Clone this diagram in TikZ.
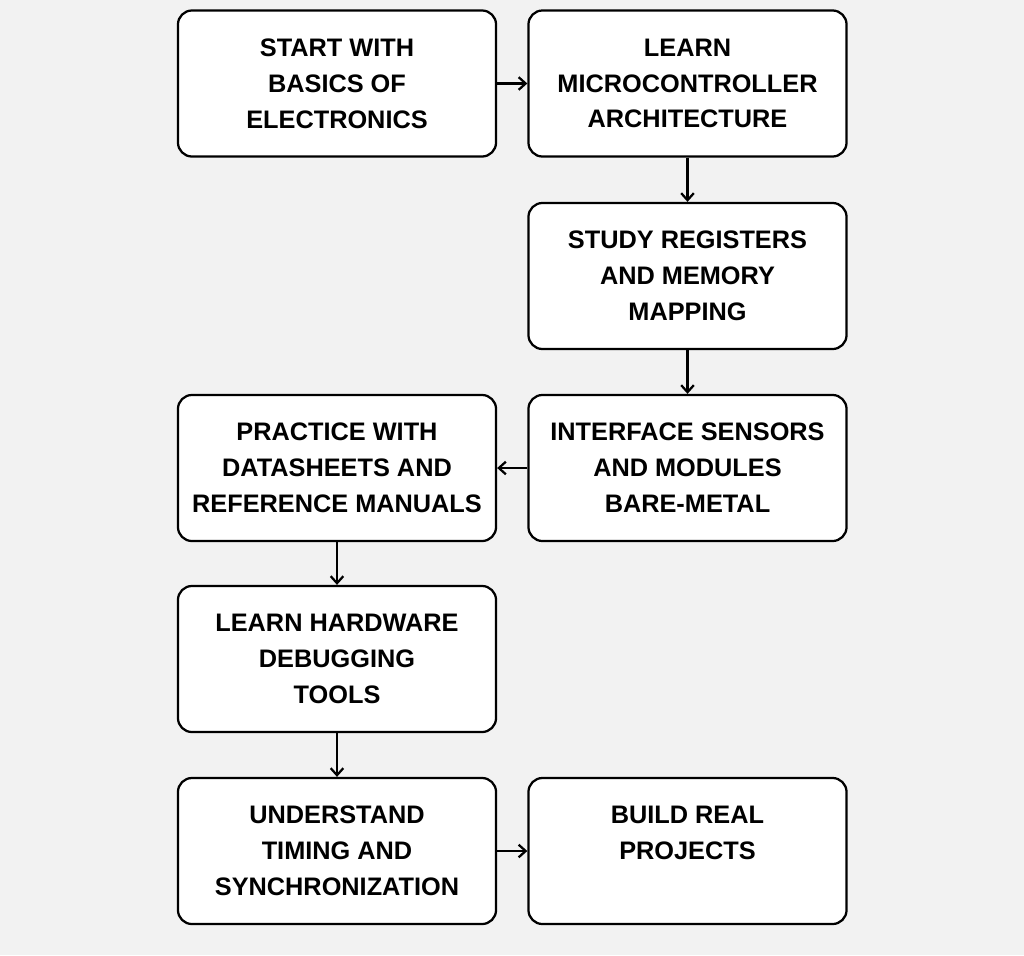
\documentclass[tikz,border=0pt]{standalone}
\usepackage{fontspec}
\setmainfont{Liberation Sans}
\usetikzlibrary{arrows.meta}
\begin{document}
\begin{tikzpicture}[
    x=0.025cm, y=-0.025cm,
    stepbox/.style={rectangle, draw, rounded corners=0.35cm, line width=1.6pt,
      fill=white, minimum width=7.95cm, minimum height=3.65cm, align=center,
      font=\fontsize{18}{25.5}\selectfont\bfseries},
    arrow/.style={-{Straight Barb[length=5pt,width=9pt]}, line width=1.6pt}
]
\fill[black!5] (0,0) rectangle (1024,955);

% Steps
\node[stepbox] (basics) at (337,83.5) {START WITH\\BASICS OF\\ELECTRONICS};
\node[stepbox] (arch) at (687.5,83.5) {LEARN\\MICROCONTROLLER\\ARCHITECTURE};
\node[stepbox] (regs) at (687.5,276) {STUDY REGISTERS\\AND MEMORY\\MAPPING};
\node[stepbox] (sensors) at (687.5,468) {INTERFACE SENSORS\\AND MODULES\\BARE-METAL};
\node[stepbox] (sheets) at (337,468) {PRACTICE WITH\\DATASHEETS AND\\REFERENCE MANUALS};
\node[stepbox] (debug) at (337,659) {LEARN HARDWARE\\DEBUGGING\\TOOLS};
\node[stepbox] (timing) at (337,851) {UNDERSTAND\\TIMING AND\\SYNCHRONIZATION};
\node[stepbox] (build) at (687.5,851) {BUILD REAL\\PROJECTS\\\phantom{X}};

% Connections
\draw[arrow] (basics) -- (arch);
\draw[arrow] (arch) -- (regs);
\draw[arrow] (regs) -- (sensors);
\draw[arrow] (sensors) -- (sheets);
\draw[arrow] (sheets) -- (debug);
\draw[arrow] (debug) -- (timing);
\draw[arrow] (timing) -- (build);

\end{tikzpicture}
\end{document}
